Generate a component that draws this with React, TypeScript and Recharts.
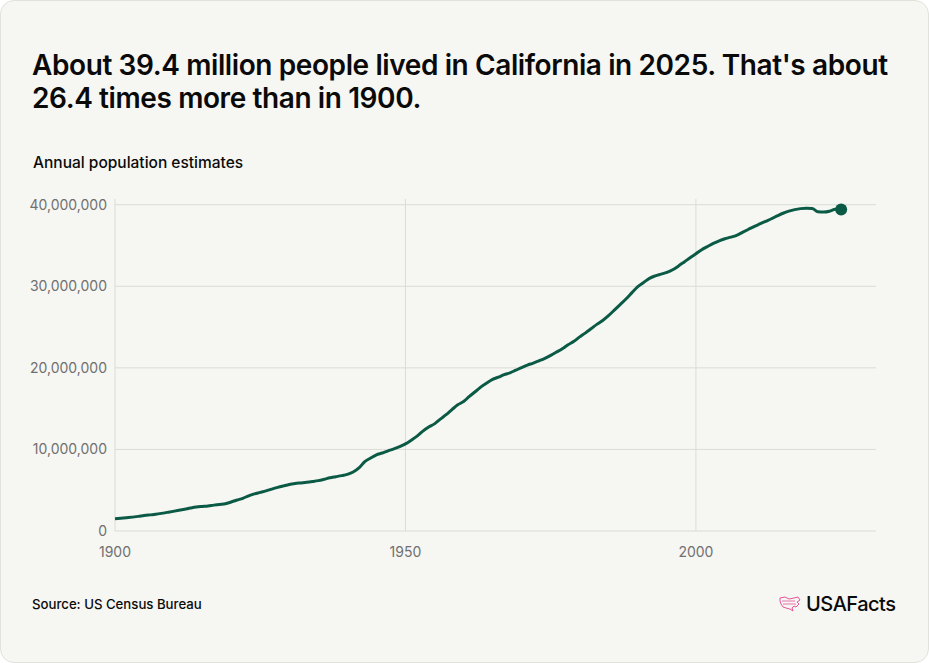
import React from "react";
import { Line, LineChart, ReferenceLine, XAxis, YAxis } from "recharts";

const years = [
  1900, 1901, 1902, 1903, 1904, 1905, 1906, 1907, 1908, 1909, 1910, 1911, 1912,
  1913, 1914, 1915, 1916, 1917, 1918, 1919, 1920, 1921, 1922, 1923, 1924, 1925,
  1926, 1927, 1928, 1929, 1930, 1931, 1932, 1933, 1934, 1935, 1936, 1937, 1938,
  1939, 1940, 1941, 1942, 1943, 1944, 1945, 1946, 1947, 1948, 1949, 1950, 1951,
  1952, 1953, 1954, 1955, 1956, 1957, 1958, 1959, 1960, 1961, 1962, 1963, 1964,
  1965, 1966, 1967, 1968, 1969, 1970, 1971, 1972, 1973, 1974, 1975, 1976, 1977,
  1978, 1979, 1980, 1981, 1982, 1983, 1984, 1985, 1986, 1987, 1988, 1989, 1990,
  1991, 1992, 1993, 1994, 1995, 1996, 1997, 1998, 1999, 2000, 2001, 2002, 2003,
  2004, 2005, 2006, 2007, 2008, 2009, 2010, 2011, 2012, 2013, 2014, 2015, 2016,
  2017, 2018, 2019, 2020, 2021, 2022, 2023, 2024, 2025,
];

const population = [
  1490000, 1550000, 1623000, 1702000, 1792000, 1893000, 1976000, 2054000,
  2161000, 2282000, 2406000, 2534000, 2668000, 2811000, 2934000, 3008000,
  3071000, 3171000, 3262000, 3339000, 3554000, 3795000, 4007000, 4318000,
  4551000, 4731000, 4917000, 5138000, 5343000, 5531000, 5711000, 5824000,
  5894000, 5963000, 6060000, 6175000, 6341000, 6528000, 6656000, 6785000,
  6950000, 7237000, 7735000, 8506000, 8945000, 9344000, 9559000, 9832000,
  10064000, 10337000, 10677000, 11134000, 11635000, 12251000, 12746000,
  13133000, 13713000, 14264000, 14880000, 15467000, 15870000, 16497000,
  17072000, 17668000, 18151000, 18585000, 18858000, 19176000, 19394000,
  19711000, 20039000, 20346000, 20585000, 20869000, 21174000, 21538000,
  21936000, 22352000, 22836000, 23257000, 23800000, 24286000, 24820000,
  25360000, 25844000, 26441000, 27102000, 27777000, 28464000, 29218000,
  29950000, 30470000, 30975000, 31275000, 31484000, 31697000, 32019000,
  32486000, 32988000, 33499000, 33988000, 34485000, 34876000, 35254000,
  35575000, 35828000, 36021000, 36250000, 36604000, 36961000, 37320000,
  37641000, 37960000, 38280000, 38626000, 38953000, 39209000, 39400000,
  39520000, 39560000, 39540000, 39140000, 39100000, 39200000, 39430000,
  39400000,
];

const xTicks = [1900, 1950, 2000];
const yTicks = [0, 10000000, 20000000, 30000000, 40000000];

const data = years.map((year, i) => ({ year, population: population[i] }));

const GREEN = "#0b5a45";
const GRID = "#dcdcd6";
const FONT = "Inter, 'Noto Sans', sans-serif";

const EndDot = (props: any) => {
  const { cx, cy, index } = props;
  if (index !== data.length - 1) return <g key={`d-${index}`} />;
  return <circle key={`d-${index}`} cx={cx} cy={cy} r={6} fill={GREEN} />;
};

export default function App() {
  return (
    <div
      style={{
        width: 929,
        height: 663,
        background: "#ffffff",
        position: "relative",
        fontFamily: FONT,
      }}
    >
      <style>{`body{margin:0}`}</style>
      <div
        style={{
          position: "absolute",
          inset: 0,
          background: "#f6f6f2",
          border: "1px solid #e2e2dc",
          borderRadius: 14,
          boxSizing: "border-box",
        }}
      />
      <div
        style={{
          position: "absolute",
          left: 32,
          top: 49,
          width: 880,
          fontSize: 28,
          lineHeight: "33px",
          fontWeight: 600,
          letterSpacing: -0.4,
          color: "#0a0a0a",
        }}
      >
        About 39.4 million people lived in California in 2025. That's about
        26.4 times more than in 1900.
      </div>
      <div
        style={{
          position: "absolute",
          left: 33,
          top: 153,
          fontSize: 15.5,
          fontWeight: 500,
          color: "#0a0a0a",
        }}
      >
        Annual population estimates
      </div>
      <div style={{ position: "absolute", left: 0, top: 190 }}>
        <LineChart
          width={929}
          height={385}
          data={data}
          margin={{ top: 9, right: 53, bottom: 0, left: 0 }}
        >
          <XAxis
            dataKey="year"
            type="number"
            domain={[1900, 2031]}
            ticks={xTicks}
            axisLine={false}
            tickLine={false}
            tickMargin={10}
            height={44}
            tick={{ fill: "#707070", fontSize: 14, fontFamily: FONT }}
          />
          <YAxis
            type="number"
            domain={[0, 40700000]}
            ticks={yTicks}
            width={115}
            axisLine={false}
            tickLine={false}
            tickFormatter={(v: number) => v.toLocaleString("en-US")}
            tick={{ fill: "#707070", fontSize: 14, fontFamily: FONT }}
          />
          {yTicks.map((t) => (
            <ReferenceLine key={`y-${t}`} y={t} stroke={GRID} strokeWidth={1} />
          ))}
          {xTicks.map((t) => (
            <ReferenceLine key={`x-${t}`} x={t} stroke={GRID} strokeWidth={1} />
          ))}
          <Line
            type="monotone"
            dataKey="population"
            stroke={GREEN}
            strokeWidth={3}
            dot={EndDot}
            activeDot={false}
            isAnimationActive={false}
          />
        </LineChart>
      </div>
      <div
        style={{
          position: "absolute",
          left: 32,
          top: 596,
          fontSize: 13.2,
          fontWeight: 500,
          color: "#0a0a0a",
        }}
      >
        Source: US Census Bureau
      </div>
      <div
        style={{
          position: "absolute",
          left: 779,
          top: 592,
          display: "flex",
          alignItems: "center",
          gap: 5,
        }}
      >
        <svg width={22} height={18} viewBox="0 0 22 18">
          <path
            d="M1 3 L6 2 L10 4 L15 3 L19 2 L21 5 L18 7 L20 9 L17 12 L15 11 L13 13 L14 16 L11 14 L7 13 L4 12 L2 9 L1 6 Z"
            fill="none"
            stroke="#e8559a"
            strokeWidth={1}
          />
          <path d="M3 6 L16 6 M4 9 L17 9" stroke="#e8559a" strokeWidth={0.8} />
        </svg>
        <span
          style={{
            fontSize: 20,
            fontWeight: 500,
            color: "#0a0a0a",
            letterSpacing: -0.5,
          }}
        >
          USAFacts
        </span>
      </div>
    </div>
  );
}
